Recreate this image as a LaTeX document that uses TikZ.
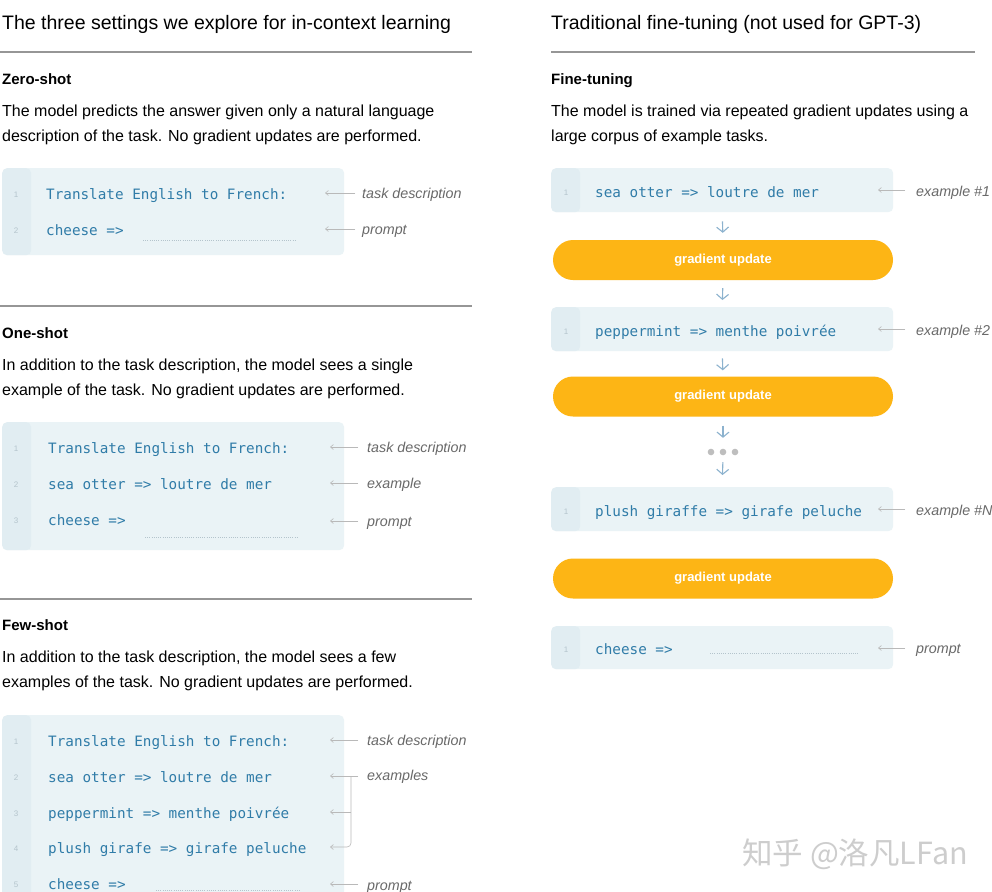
\documentclass[tikz,border=0pt]{standalone}
\usepackage{fontspec}
\setmainfont{Liberation Sans}
\setmonofont{DejaVu Sans Mono}
\newfontfamily\cjk{Noto Sans CJK SC}
\usepackage{xcolor}
\usetikzlibrary{arrows.meta}

\definecolor{codefill}{RGB}{234,243,246}
\definecolor{numfill}{RGB}{225,237,242}
\definecolor{codeblue}{RGB}{48,124,168}
\definecolor{numgray}{RGB}{180,196,204}
\definecolor{notegray}{RGB}{105,105,105}
\definecolor{pointgray}{RGB}{185,185,185}
\definecolor{downblue}{RGB}{140,178,206}
\definecolor{rulegray}{RGB}{150,150,150}
\definecolor{gradorange}{RGB}{253,181,21}
\definecolor{dotgray}{RGB}{190,190,190}
\definecolor{wmgray}{RGB}{205,205,205}

\begin{document}
\begin{tikzpicture}[x=1pt,y=-1pt,
  title/.style={anchor=base west,inner sep=0,font=\fontsize{19.5}{23}\selectfont},
  heading/.style={anchor=base west,inner sep=0,font=\bfseries\fontsize{15}{18}\selectfont},
  desc/.style={anchor=base west,inner sep=0,font=\fontsize{16}{19}\selectfont},
  codebox/.style={anchor=north west,fill=codefill,rounded corners=5pt,inner sep=0,minimum width=342pt,
    path picture={\fill[numfill] (path picture bounding box.north west) rectangle ([xshift=29pt]path picture bounding box.south west);}},
  code/.style={anchor=base west,inner sep=0,text=codeblue,font=\ttfamily\fontsize{14.3}{17}\selectfont},
  lineno/.style={anchor=base,inner sep=0,text=numgray,font=\fontsize{8}{9}\selectfont},
  note/.style={anchor=base west,inner sep=0,text=notegray,font=\itshape\fontsize{14.3}{17}\selectfont},
  pointer/.style={-{Straight Barb[length=3pt,width=5pt]},draw=pointgray,line width=0.6pt},
  blank/.style={draw=numgray,line width=0.6pt,dash pattern=on 1pt off 1.2pt},
  gradstep/.style={fill=gradorange,rounded corners=20pt,minimum width=340pt,minimum height=40pt,
    text=white,font=\bfseries\fontsize{13}{15}\selectfont},
  downarrow/.style={-{Straight Barb[length=5pt,width=12pt]},draw=downblue,line width=1.1pt},
  sectionrule/.style={draw=rulegray,line width=1.4pt}
]
\useasboundingbox (0,0) rectangle (992,891);
\fill[white] (0,0) rectangle (992,891);

% Left column: headings
\node[title] (lefttitle) at (2,30) {The three settings we explore for in-context learning};
\draw[sectionrule] (0,52) -- (472,52);
\draw[sectionrule] (0,306) -- (472,306);
\draw[sectionrule] (0,599) -- (472,599);

% Zero-shot
\node[heading] (zhead) at (2,84) {Zero-shot};
\node[desc] (zdesc1) at (2,116) {The model predicts the answer given only a natural language};
\node[desc] (zdesc2) at (2,141) {description of the task. No gradient updates are performed.};
\node[codebox,minimum height=87pt] (zbox) at (2,168) {};
\foreach \i/\y in {1/197,2/233} \node[lineno] (zl\i) at (16,\y) {\i};
\node[code] (zc1) at (46,199) {Translate English to French:};
\node[code] (zc2) at (46,235) {cheese =>};
\draw[blank] (143,240) -- (295,240);
\node[note] (zn1) at (362,198) {task description};
\node[note] (zn2) at (362,234) {prompt};
\coordinate (zt1) at (325,193);
\coordinate (zt2) at (325,229);
\draw[pointer] ([xshift=-7pt]zt1 -| zn1.west) -- (zt1);
\draw[pointer] ([xshift=-7pt]zt2 -| zn2.west) -- (zt2);

% One-shot
\node[heading] (ohead) at (2,338) {One-shot};
\node[desc] (odesc1) at (2,370) {In addition to the task description, the model sees a single};
\node[desc] (odesc2) at (2,395) {example of the task. No gradient updates are performed.};
\node[codebox,minimum height=128pt] (obox) at (2,422) {};
\foreach \i/\y in {1/451,2/487,3/523} \node[lineno] (ol\i) at (16,\y) {\i};
\node[code] (oc1) at (48,453) {Translate English to French:};
\node[code] (oc2) at (48,489) {sea otter => loutre de mer};
\node[code] (oc3) at (48,525) {cheese =>};
\draw[blank] (145,537) -- (298,537);
\node[note] (on1) at (367,452) {task description};
\node[note] (on2) at (367,488) {example};
\node[note] (on3) at (367,526) {prompt};
\coordinate (ot1) at (330,447);
\coordinate (ot2) at (330,483);
\coordinate (ot3) at (330,521);
\foreach \i in {1,2,3} \draw[pointer] ([xshift=-9pt]ot\i -| on\i.west) -- (ot\i);

% Few-shot
\node[heading] (fhead) at (2,630) {Few-shot};
\node[desc] (fdesc1) at (2,662) {In addition to the task description, the model sees a few};
\node[desc] (fdesc2) at (2,687) {examples of the task. No gradient updates are performed.};
\node[codebox,minimum height=200pt] (fbox) at (2,715) {};
\foreach \i/\y in {1/744,2/780,3/816,4/851,5/887} \node[lineno] (fl\i) at (16,\y) {\i};
\node[code] (fc1) at (48,746) {Translate English to French:};
\node[code] (fc2) at (48,782) {sea otter => loutre de mer};
\node[code] (fc3) at (48,818) {peppermint => menthe poivrée};
\node[code] (fc4) at (48,853) {plush girafe => girafe peluche};
\node[code] (fc5) at (48,889) {cheese =>};
\draw[blank] (156,890) -- (300,890);
\node[note] (fn1) at (367,745) {task description};
\node[note] (fn2) at (367,780) {examples};
\node[note] (fn5) at (367,890) {prompt};
\coordinate (ft1) at (330,740);
\coordinate (ft2) at (330,776);
\coordinate (ft3) at (330,812);
\coordinate (ft4) at (330,847);
\coordinate (ft5) at (330,884);
\coordinate (fbrace) at (351,776);
\draw[pointer] ([xshift=-9pt]ft1 -| fn1.west) -- (ft1);
\draw[pointer] ([xshift=-9pt]ft2 -| fn2.west) -- (ft2);
\draw[pointer] ([xshift=-9pt]ft5 -| fn5.west) -- (ft5);
\draw[pointer] (fbrace |- ft3) -- (ft3);
\draw[pointer,rounded corners=4pt] (fbrace) -- (fbrace |- ft4) -- (ft4);

% Right column: fine-tuning
\node[title] (righttitle) at (551,30) {Traditional fine-tuning (not used for GPT-3)};
\draw[sectionrule] (551,52) -- (975,52);
\node[heading] (thead) at (551,84) {Fine-tuning};
\node[desc] (tdesc1) at (551,116) {The model is trained via repeated gradient updates using a};
\node[desc] (tdesc2) at (551,141) {large corpus of example tasks.};

\node[codebox,minimum height=44pt] (exa) at (551,168) {};
\node[codebox,minimum height=44pt] (exb) at (551,307) {};
\node[codebox,minimum height=44pt] (exc) at (551,487) {};
\node[codebox,minimum height=43pt] (exd) at (551,626) {};
\foreach \b/\y in {a/195,b/334,c/514,d/652} \node[lineno] (tl\b) at (566,\y) {1};
\node[code] (tca) at (595,197) {sea otter => loutre de mer};
\node[code] (tcb) at (595,336) {peppermint => menthe poivrée};
\node[code] (tcc) at (595,516) {plush giraffe => girafe peluche};
\node[code] (tcd) at (595,654) {cheese =>};
\draw[blank] (710,653) -- (858,653);

\node[gradstep] (gua) at (723,260) {gradient update};
\node[gradstep] (gub) at (723,396.5) {gradient update};
\node[gradstep] (guc) at (723,578.5) {gradient update};

\node[inner sep=0,minimum width=34pt,minimum height=8pt] (dots) at (723,452) {};
\foreach \dx in {-12,0,12} \fill[dotgray] ([xshift=\dx pt]dots.center) circle (3.3);

\draw[downarrow,shorten <=9pt,shorten >=7pt] (exa.south) -- (gua.north);
\draw[downarrow,shorten <=8pt,shorten >=7pt] (gua.south) -- (exb.north);
\draw[downarrow,shorten <=7pt,shorten >=6pt] (exb.south) -- (gub.north);
\draw[downarrow,shorten <=9pt,shorten >=10pt] (gub.south) -- (dots.north);
\draw[downarrow,shorten <=6pt,shorten >=12pt] (dots.south) -- (exc.north);

\node[note] (tna) at (916,196) {example \#1};
\node[note] (tnb) at (916,335) {example \#2};
\node[note] (tnc) at (916,515) {example \#N};
\node[note] (tnd) at (916,653) {prompt};
\coordinate (tta) at (878,190);
\coordinate (ttb) at (878,329);
\coordinate (ttc) at (878,509);
\coordinate (ttd) at (878,648);
\foreach \b in {a,b,c,d} \draw[pointer] ([xshift=-11pt]tt\b -| tn\b.west) -- (tt\b);

% Watermark
\node[anchor=base west,inner sep=0,text=wmgray,font=\cjk\fontsize{30.5}{33}\selectfont] (wm) at (742,864) {知乎 @洛凡LFan};

\end{tikzpicture}
\end{document}
